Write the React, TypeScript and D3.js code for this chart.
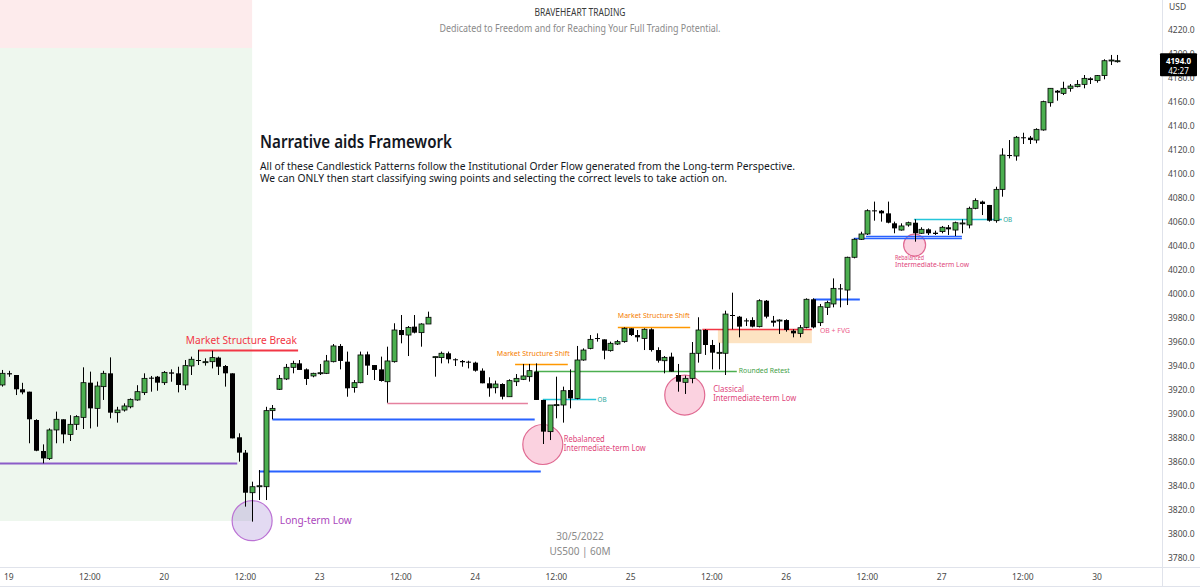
import React from 'react';
import * as d3 from 'd3';

const W = 1200;
const H = 587;

// OHLC per hourly bar (US500, 60M)
const opens = [3924.2,3934,3932.5,3920.6,3918.6,3895,3869.2,3863,3886.7,3895.6,3883,3891.4,3897.2,3926.1,3904.7,3922.8,3933.9,3901.1,3903.3,3906,3911.7,3917.8,3930.3,3931.1,3926.1,3934.7,3933.9,3924.2,3940,3945,3943.6,3943.6,3947,3940,3933.9,3880.6,3867.8,3834.4,3840,3839.4,3902.8,3920.6,3929.2,3938.9,3942.2,3937.2,3931.7,3933.9,3933.9,3943.6,3956.7,3943.6,3922,3926.1,3949.7,3940.8,3937.2,3926.9,3943.6,3970,3965.8,3972.8,3967.8,3975,3947.2,3947,3950.6,3945.6,3944.2,3943.6,3942.8,3936.1,3925.6,3921.9,3925,3914.4,3926.9,3928.9,3931.1,3935.3,3911.7,3885.3,3907.5,3907.5,3920,3913,3945,3954.7,3963.3,3962.2,3952.8,3958.3,3960.3,3971.4,3965.8,3963,3970.6,3953.3,3944.4,3947.8,3932.5,3926.4,3929.7,3950.6,3970,3957.5,3951.1,3950.6,3982.5,3981.1,3978,3978.3,3972.8,3994.4,3977.8,3978.3,3978.3,3969.4,3967.2,3972.2,3995.6,3976.1,3988.9,3991.7,4004.7,4003.3,4030.6,4045.6,4050,4069.7,4069.4,4067.2,4058.9,4053.3,4057.5,4059.4,4050.6,4053.9,4051.1,4052,4055.6,4053.3,4058.9,4057.5,4071.4,4077,4074.2,4061.1,4087.2,4115.8,4115,4130.6,4130.3,4128.3,4136.7,4159.4,4169.4,4167.2,4171.4,4172.8,4174.7,4179.7,4177.8,4182,4195,4194.4];
const highs = [3936.7,3936,3932.5,3926,3918.6,3895.6,3874.7,3888,3902,3895.6,3899,3899,3938.9,3935.3,3927,3936,3947.2,3906,3908.9,3913,3924,3933.9,3931.7,3931.7,3935.8,3937.2,3939.4,3945,3947.8,3953.3,3946.4,3952.8,3947.8,3940.8,3933.9,3883.9,3870,3843.6,3853.3,3906,3907.5,3932.5,3941.7,3944.4,3945,3938,3934.4,3941.7,3949.2,3958.3,3958.3,3952,3928.3,3952,3952,3940.8,3947.8,3956.1,3975.6,3982.5,3973.3,3982.5,3975.6,3985.3,3947.8,3952,3952,3946.4,3945,3944.4,3943.6,3938,3930.6,3927.8,3925.6,3928.9,3933.3,3941.7,3941.7,3942.2,3911.7,3907.5,3931.1,3922.8,3937.2,3956.7,3954.7,3965.8,3967.2,3962.2,3960.3,3961.7,3972.2,3971.4,3970,3971.4,3971.4,3955.6,3948.3,3951.1,3941.7,3932,3960,3980.6,3970.6,3961.7,3959.4,3986.1,4001.1,3981.7,3979.7,3980.6,3995.6,3995,3981.7,3978.9,3978.9,3970.6,3974.2,3996.4,3996.4,3991.7,3994.4,4013,4008.3,4031.1,4046.4,4051.9,4070.6,4077,4070,4077,4060.3,4058.9,4060.3,4062.2,4055.6,4054.7,4052.8,4056.7,4057.5,4060.3,4062.2,4072.8,4079.7,4077.8,4074.2,4089.4,4121.4,4128.3,4131.7,4134.4,4131.7,4138.1,4161.1,4171.4,4170,4176.9,4175,4178.3,4182.5,4180.6,4182.5,4195.6,4199.2,4199.2];
const lows = [3922.8,3931,3915.8,3916.4,3875.6,3869,3858.9,3861.7,3875.6,3875.6,3877.5,3886.7,3887.5,3888,3889.4,3911.7,3896.4,3892.8,3902,3904.7,3911,3915.8,3918.6,3919.4,3924.2,3926.9,3918,3920,3932.5,3940.8,3940.3,3938,3932.5,3922.8,3879.7,3860.3,3822.8,3810.3,3828.3,3828.3,3895.6,3920,3928.3,3933.9,3936.7,3924.2,3930.6,3932.5,3933.3,3943,3937.2,3914.4,3917.8,3925.6,3932.5,3928.3,3927,3909.4,3942.8,3958.9,3948.3,3967.2,3956.1,3975,3931.1,3942.2,3942.2,3940,3939.4,3938,3935.3,3925.6,3914.4,3917.2,3912.2,3914.4,3923.3,3928.3,3927,3911.7,3875,3878.3,3896.4,3892.8,3904.7,3912.2,3944.4,3953.9,3960.3,3945.6,3952,3957.5,3959.4,3965,3960.3,3953.3,3952,3942.8,3933.9,3935.3,3918.6,3916.7,3925.6,3942.8,3949.2,3937.2,3937.2,3932.5,3970.6,3963.9,3973.3,3972.2,3972.2,3979.7,3972.8,3966.7,3968.6,3963.9,3963.9,3971.4,3971.4,3973.3,3982.5,3988.9,3988.9,3990.8,4029.7,4045,4049.2,4061.1,4060.3,4058.9,4050.6,4052.8,4056.1,4043.6,4050,4049.2,4049.2,4050.6,4049.2,4048.3,4050.6,4054.7,4070.6,4065.8,4060.3,4059.4,4081.1,4113,4111.1,4125,4125,4125.6,4136.1,4156.1,4161.1,4165.8,4168.6,4172.2,4171.4,4175,4176.1,4178.9,4190.8,4192.8];
const closes = [3933.9,3933,3920.6,3918,3895.6,3869.4,3863,3886.7,3895.6,3883,3891.4,3897.8,3926.1,3904.7,3923.3,3933.9,3901.1,3903.3,3906.7,3912.2,3918.6,3929.7,3929.4,3926.1,3934.7,3933.6,3924.2,3940.3,3945.6,3944.2,3943.6,3947,3939.4,3933.9,3879.7,3867.8,3834.4,3839.4,3840.2,3902.8,3904.7,3929.7,3938.9,3942.2,3936.7,3929.2,3933.9,3934.4,3944.2,3956.7,3944.2,3921.4,3926.1,3949.2,3940.3,3936.7,3927.5,3944.2,3970,3965.8,3972.2,3967.8,3975,3980.6,3947.8,3950.6,3945.6,3945,3943.1,3942.8,3936.1,3925.6,3921.4,3925,3914.4,3927.8,3929.7,3931.7,3936.1,3911.7,3885.3,3907.5,3907.8,3919.4,3913,3945,3953.3,3962.2,3962.8,3952.8,3958.9,3960.3,3971.4,3965.8,3963.9,3970.6,3953.3,3944.4,3947.2,3935.3,3926.9,3929.7,3950.6,3970,3957.5,3951.1,3951.4,3983.3,3982.2,3972.8,3977.5,3972.8,3994.4,3981.1,3976.1,3978.3,3970,3967.2,3971.9,3995.6,3972.2,3989.4,3992.8,4004.7,4003.9,4030.6,4045.6,4050,4069.4,4069.2,4067.2,4059.4,4054.7,4056.7,4059.4,4050.6,4053.9,4050.6,4050,4055.6,4053.9,4059.4,4059.2,4071.4,4077.8,4075,4061.1,4087.2,4115.8,4115.3,4130.6,4130,4128.3,4137.2,4160.3,4171.4,4167.8,4171.4,4173.3,4174.7,4179.7,4178.3,4182,4194.4,4195,4194.4];

const priceTicks = [3780,3800,3820,3840,3860,3880,3900,3920,3940,3960,3980,4000,4020,4040,4060,4080,4100,4120,4140,4160,4180,4200,4220];
const timeTickIndex = [1,13,24,36,47,59,70,82,93,105,116,128,139,151,162];
const timeTickLabels = ['19','12:00','20','12:00','23','12:00','24','12:00','25','12:00','26','12:00','27','12:00','30'];

const lastPrice = 4194.0;
const countdown = '42:27';

// annotation levels (bar index span, price, colour)
const levelLines = [
  { x0: -0.4, x1: 34.8, p: 3859.4, color: '#8b5cc8', w: 2 },
  { x0: 29, x1: 43.8, p: 3953.3, color: '#f23645', w: 2 },
  { x0: 40, x1: 78.8, p: 3895.6, color: '#2962ff', w: 2 },
  { x0: 38, x1: 79.7, p: 3852.8, color: '#2962ff', w: 2 },
  { x0: 57, x1: 77.8, p: 3909.4, color: '#e5819f', w: 1.5 },
  { x0: 75.9, x1: 83.7, p: 3941.7, color: '#ff9800', w: 1.3 },
  { x0: 78.8, x1: 108.7, p: 3936.1, color: '#4caf50', w: 1.3 },
  { x0: 80, x1: 87.9, p: 3912.2, color: '#26c6da', w: 1.5 },
  { x0: 91.1, x1: 101.8, p: 3972.8, color: '#ff9800', w: 1.3 },
  { x0: 103.6, x1: 119.8, p: 3970.6, color: '#f23645', w: 1.5 },
  { x0: 120, x1: 126.9, p: 3996, color: '#2962ff', w: 2 },
  { x0: 127.8, x1: 142, p: 4048.6, color: '#2962ff', w: 1.5 },
  { x0: 126, x1: 142, p: 4046.4, color: '#2962ff', w: 1.5 },
  { x0: 134.9, x1: 147.9, p: 4062.2, color: '#26c6da', w: 1.3 },
];

const zones = [
  { x0: -0.4, x1: 37, p0: 4245, p1: 4205, fill: '#fdebec' },
  { x0: -0.4, x1: 37, p0: 4205, p1: 3810.8, fill: '#eef7ee' },
  { x0: 105.9, x1: 119.8, p0: 3970.6, p1: 3959, fill: '#fde3c2' },
];

const circles = [
  { i: 37, p: 3811.1, r: 20, fill: 'rgba(126,87,194,0.22)', stroke: '#bb72d4' },
  { i: 80, p: 3874.6, r: 20, fill: 'rgba(233,30,99,0.2)', stroke: '#e06a92' },
  { i: 101, p: 3915.8, r: 20, fill: 'rgba(233,30,99,0.2)', stroke: '#e06a92' },
  { i: 135, p: 4040.8, r: 11, fill: 'rgba(233,30,99,0.2)', stroke: '#e06a92' },
];

const labels = [
  { i: 27.2, p: 3958.0, text: 'Market Structure Break', size: 11, color: '#f23645', len: 111 },
  { i: 41.1, p: 3808.0, text: 'Long-term Low', size: 11, color: '#ab47bc', len: 72 },
  { i: 73.2, p: 3948.6, text: 'Market Structure Shift', size: 7.5, color: '#f57c00', len: 73 },
  { i: 91.1, p: 3979.6, text: 'Market Structure Shift', size: 7.5, color: '#f57c00', len: 72 },
  { i: 83.1, p: 3876.6, text: 'Rebalanced', size: 8, color: '#e0457b', len: 41 },
  { i: 83.1, p: 3869.2, text: 'Intermediate-term Low', size: 8, color: '#e0457b', len: 82 },
  { i: 105.2, p: 3918.0, text: 'Classical', size: 8, color: '#e0457b', len: 31 },
  { i: 105.2, p: 3910.6, text: 'Intermediate-term Low', size: 8, color: '#e0457b', len: 83 },
  { i: 109, p: 3933.8, text: 'Rounded Retest', size: 7.5, color: '#43a047', len: 51 },
  { i: 88.1, p: 3909.9, text: 'OB', size: 7.5, color: '#26a69a', len: 9 },
  { i: 121, p: 3967.6, text: 'OB + FVG', size: 7.5, color: '#ec5b8a', len: 30 },
  { i: 148.1, p: 4059.8, text: 'OB', size: 7.5, color: '#26a69a', len: 9 },
  { i: 132.1, p: 4028.0, text: 'Rebalanced', size: 6.5, color: '#e0457b', len: 29 },
  { i: 132.1, p: 4022.4, text: 'Intermediate-term Low', size: 6.5, color: '#e0457b', len: 74 },
];

const FONT = "'Noto Sans', 'DejaVu Sans', sans-serif";

export default function App() {
  const n = opens.length;
  const x = d3.scaleLinear().domain([0, 165]).range([2, 2 + 165 * 6.76]);
  const y = d3.scaleLinear().domain([3780, 4220]).range([558, 30]);
  const bw = 5;

  const candles = d3.range(n).map((i) => {
    const o = opens[i], c = closes[i], h = highs[i], l = lows[i];
    const up = c >= o;
    const top = y(Math.max(o, c));
    const bot = y(Math.min(o, c));
    const cx = Math.round(x(i)) + 0.5;
    return (
      <g key={i}>
        <line x1={cx} x2={cx} y1={y(h)} y2={y(l)} stroke="#000" strokeWidth={1} />
        <rect
          x={cx - bw / 2}
          y={top}
          width={bw}
          height={Math.max(1, bot - top)}
          fill={up ? '#4caf50' : '#000'}
          stroke="#000"
          strokeWidth={up ? 0.8 : 0}
        />
      </g>
    );
  });

  return (
    <svg width={W} height={H} style={{ position: 'absolute', left: 0, top: 0, background: '#fff' }} fontFamily={FONT}>
      <rect x={0} y={0} width={W} height={H} fill="#ffffff" />
      {zones.map((z, k) => (
        <rect key={k} x={x(z.x0)} y={y(z.p0)} width={x(z.x1) - x(z.x0)} height={y(z.p1) - y(z.p0)} fill={z.fill} />
      ))}

      {/* header */}
      <text x={580} y={16} textAnchor="middle" fontSize={10} fill="#3a3a3a" textLength={91} lengthAdjust="spacingAndGlyphs">BRAVEHEART TRADING</text>
      <text x={580} y={32} textAnchor="middle" fontSize={10} fill="#8a8a8a" textLength={281} lengthAdjust="spacingAndGlyphs">Dedicated to Freedom and for Reaching Your Full Trading Potential.</text>

      {/* narrative */}
      <text x={260} y={148} fontSize={17} fill="#131722" fontWeight={600} textLength={192} lengthAdjust="spacingAndGlyphs">Narrative aids Framework</text>
      <text x={260} y={170} fontSize={10.5} fill="#131722" textLength={535} lengthAdjust="spacingAndGlyphs">All of these Candlestick Patterns follow the Institutional Order Flow generated from the Long-term Perspective.</text>
      <text x={260} y={182} fontSize={10.5} fill="#131722" textLength={467} lengthAdjust="spacingAndGlyphs">We can ONLY then start classifying swing points and selecting the correct levels to take action on.</text>

      {circles.map((c, k) => (
        <circle key={k} cx={x(c.i)} cy={y(c.p)} r={c.r} fill={c.fill} stroke={c.stroke} strokeWidth={1.2} />
      ))}

      {levelLines.map((l, k) => (
        <line key={k} x1={x(l.x0)} x2={x(l.x1)} y1={Math.round(y(l.p)) + 0.5} y2={Math.round(y(l.p)) + 0.5} stroke={l.color} strokeWidth={l.w} />
      ))}

      {candles}

      {labels.map((t, k) => (
        <text key={k} x={x(t.i)} y={y(t.p)} fontSize={t.size} fill={t.color} textLength={t.len} lengthAdjust="spacingAndGlyphs">{t.text}</text>
      ))}

      {/* footer watermark */}
      <text x={580} y={540} textAnchor="middle" fontSize={10} fill="#8a8a8a">30/5/2022</text>
      <text x={580} y={555} textAnchor="middle" fontSize={10} fill="#8a8a8a">US500 | 60M</text>

      {/* price axis */}
      <rect x={1162} y={0} width={W - 1162} height={H} fill="#fff" />
      <line x1={1162.5} x2={1162.5} y1={0} y2={H} stroke="#e0e3eb" />
      <text x={1169} y={10} fontSize={8.5} fill="#4a4a4a">USD</text>
      {priceTicks.map((p) => (
        <text key={p} x={1168} y={y(p) + 3} fontSize={8.5} fill="#4a4a4a">{d3.format('.1f')(p)}</text>
      ))}
      <rect x={1160} y={y(lastPrice) - 8} width={37} height={23} fill="#000" rx={1} />
      <text x={1178.5} y={y(lastPrice) + 2.5} textAnchor="middle" fontSize={8} fontWeight={700} fill="#fff">{d3.format('.1f')(lastPrice)}</text>
      <text x={1178.5} y={y(lastPrice) + 12.5} textAnchor="middle" fontSize={8} fill="#fff">{countdown}</text>

      {/* time axis */}
      <rect x={0} y={567} width={1162} height={H - 567} fill="#fff" />
      <line x1={0} x2={W} y1={567.5} y2={567.5} stroke="#e0e3eb" />
      <line x1={0} x2={W} y1={586.5} y2={586.5} stroke="#e0e3eb" />
      {timeTickIndex.map((ti, k) => (
        <text key={k} x={x(ti)} y={580} textAnchor="middle" fontSize={8.5} fill="#4a4a4a">{timeTickLabels[k]}</text>
      ))}
    </svg>
  );
}
